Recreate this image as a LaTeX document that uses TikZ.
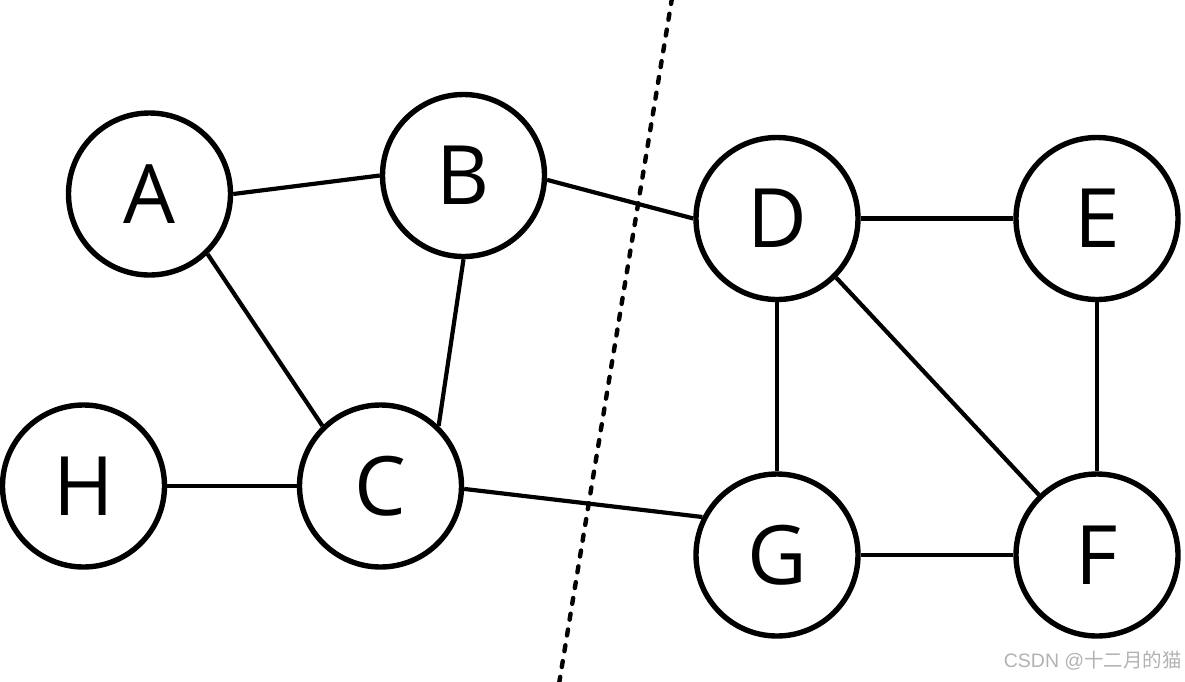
\documentclass[tikz,border=0pt]{standalone}
\usepackage{fontspec}
\setmainfont{Open Sans}
\newfontfamily\cjk{Noto Sans CJK SC}
\newfontfamily\wmlatin{Liberation Sans}
\begin{document}
\begin{tikzpicture}[x=1pt,y=-1pt,
  vnode/.style={circle,draw=black,line width=5.4pt,minimum size=162pt,inner sep=0pt,
    font=\fontsize{82}{82}\selectfont},
  edge/.style={line width=4.2pt}]
\useasboundingbox (0,0) rectangle (1185,681);
\node[vnode] (A) at (149.5,194) {A};
\node[vnode] (B) at (463.5,175.5) {B};
\node[vnode] (H) at (83.5,486) {H};
\node[vnode] (C) at (380.5,486) {C};
\node[vnode] (D) at (777,218.5) {D};
\node[vnode] (E) at (1097,218.5) {E};
\node[vnode] (G) at (777,555) {G};
\node[vnode] (F) at (1097,555) {F};
\coordinate (cutTop) at (672,-2);
\coordinate (cutBot) at (559,684);
\draw[line width=4.4pt,line cap=round,dash pattern=on 6pt off 10pt] (cutTop) -- (cutBot);
\draw[edge] (A.east) -- (B.west);
\draw[edge] (A.-46) -- (C.134);
\draw[edge] (B.south) -- (C.46);
\draw[edge] (H.east) -- (C.west);
\draw[edge] (C.-2) -- (G.153);
\draw[edge] (B.-3) -- (D.west);
\draw[edge] (D.east) -- (E.west);
\draw[edge] (D.south) -- (G.north);
\draw[edge] (D.-45) -- (F.134);
\draw[edge] (E.south) -- (F.north);
\draw[edge] (G.east) -- (F.west);
\node[anchor=base east,font=\fontsize{19.5}{19.5}\selectfont,text=black!30,inner sep=0pt] (wm) at (1182,667) {{\wmlatin CSDN @}{\cjk 十二月的猫}};
\end{tikzpicture}
\end{document}
